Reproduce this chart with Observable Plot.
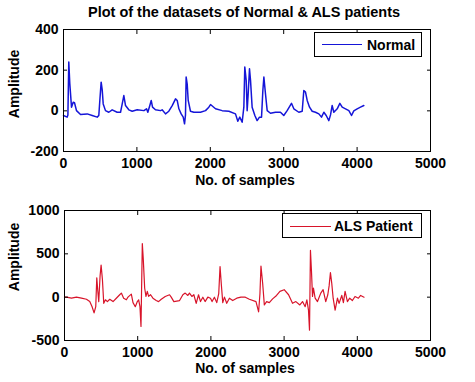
<!DOCTYPE html>
<html>
<head>
<meta charset="utf-8">
<script src="https://cdn.jsdelivr.net/npm/d3@7"></script>
<script src="https://cdn.jsdelivr.net/npm/@observablehq/plot@0.6"></script>
<style>
  html, body { margin: 0; padding: 0; background: #fff; }
  #wrap { position: relative; width: 475px; height: 382px; overflow: hidden; font-family: "Liberation Sans", Arial, sans-serif; font-weight: bold; color: #000; }
  .abs { position: absolute; white-space: nowrap; }
  .t14 { font-size: 14px; line-height: 16px; }
  .rot { transform: translate(-50%, -50%) rotate(-90deg); }
  .box { border: 1px solid #000; background: #fff; box-sizing: border-box; }
</style>
</head>
<body>
<div id="wrap">
  <div class="abs" style="left:0;width:488px;top:4px;text-align:center;font-size:14.5px;line-height:17px;">Plot of the datasets of Normal &amp; ALS patients</div>
  <div id="top" class="abs" style="left:0;top:20px;"></div>
  <div id="bottom" class="abs" style="left:0;top:196px;"></div>
  <div class="abs t14 rot" style="left:13.5px;top:84px;">Amplitude</div>
  <div class="abs t14 rot" style="left:13.5px;top:257px;">Amplitude</div>
  <div class="abs t14" style="left:0;width:490px;top:172.4px;text-align:center;">No. of samples</div>
  <div class="abs t14" style="left:0;width:490px;top:360px;text-align:center;">No. of samples</div>
  <div class="abs box" style="left:314px;top:32px;width:108px;height:25px;"></div>
  <div class="abs" style="left:322px;top:44px;width:40px;height:0;border-top:1px solid #1515d8;"></div>
  <div class="abs t14" style="left:367px;top:37.4px;">Normal</div>
  <div class="abs box" style="left:282px;top:213px;width:140px;height:25px;"></div>
  <div class="abs" style="left:290px;top:226px;width:41px;height:0;border-top:1px solid #d8142a;"></div>
  <div class="abs t14" style="left:334px;top:218.4px;">ALS Patient</div>
</div>
<script>
// ---- data ----
const normalSamples = [0,50,60,72,86,109,132,150,177,232,323,391,459,481,495,513,527,541,572,617,663,731,777,800,822,845,890,936,1004,1095,1131,1149,1176,1195,1213,1253,1322,1344,1390,1435,1481,1503,1526,1549,1572,1603,1631,1649,1662,1671,1685,1699,1730,1776,1866,1935,1980,2003,2071,2162,2253,2343,2375,2402,2434,2457,2470,2489,2502,2516,2534,2548,2570,2607,2638,2670,2698,2716,2730,2752,2775,2820,2888,2956,3001,3047,3106,3138,3206,3252,3274,3297,3320,3352,3388,3433,3479,3515,3547,3579,3615,3638,3660,3683,3729,3765,3797,3842,3888,3924,3955,4001,4046,4092];
const normalAmp = [-23,-31,-20,240,133,18,42,40,1,-18,-15,-23,-31,-23,51,141,105,34,1,-7,5,-7,-7,34,75,26,5,-2,5,1,10,-7,26,51,18,5,1,5,-15,-2,26,42,59,51,10,-15,-31,-64,-20,166,133,51,-2,-7,-7,1,18,31,10,1,-2,-15,-51,-31,-56,18,215,150,1,83,207,150,18,-23,-48,-31,-31,100,166,83,1,-12,-7,-7,-23,1,37,10,-7,-2,100,92,51,18,-2,-7,-15,-31,-7,-23,-48,-20,26,-7,10,37,18,10,1,-23,0,10,18,26];

const alsSamples = [0,27,95,163,232,300,345,377,404,427,441,454,468,486,500,518,536,559,586,618,663,708,754,777,808,845,867,913,936,967,995,1013,1031,1045,1063,1076,1095,1113,1131,1149,1176,1208,1253,1285,1322,1376,1435,1458,1494,1572,1617,1649,1685,1707,1740,1767,1799,1831,1858,1890,1921,1958,1994,2016,2048,2080,2107,2125,2143,2162,2185,2216,2253,2298,2353,2411,2470,2525,2616,2652,2670,2684,2707,2730,2761,2798,2843,2897,2943,3001,3061,3115,3161,3215,3252,3288,3311,3333,3347,3360,3374,3388,3401,3424,3456,3501,3533,3569,3597,3615,3633,3651,3670,3697,3729,3751,3788,3810,3833,3865,3896,3933,3969,4015,4046,4092];
const alsAmp = [0,0,-12,0,-12,-24,-51,-110,-181,-110,224,80,-51,244,370,204,-71,-30,-51,-24,-51,-12,28,47,-12,-30,0,35,-63,-110,-51,-30,-110,-337,618,442,106,8,67,10,28,-12,-39,-51,-24,8,28,0,-51,-39,28,47,20,47,8,28,-71,28,-51,0,-51,0,-12,-51,0,-63,40,354,140,-63,0,-71,-12,-39,-12,0,0,-24,-51,-169,40,358,161,-90,-51,-63,-20,20,67,86,28,-71,-51,-90,-51,-110,-30,-149,-380,539,300,8,106,-12,-51,47,86,-51,28,130,283,160,-12,-149,-12,-71,20,-63,67,-51,-12,-39,8,-12,20,0];

const xTicks = [0, 1000, 2000, 3000, 4000, 5000];
const topYTicks = [-200, 0, 200, 400];
const bottomYTicks = [-500, 0, 500, 1000];

const normalData = normalSamples.map((s, i) => ({s, v: normalAmp[i]}));
const alsData = alsSamples.map((s, i) => ({s, v: alsAmp[i]}));

const fmt = d => String(d);
const none = () => "";
const style = {fontFamily: '"Liberation Sans", Arial, sans-serif', fontSize: "14px", fontWeight: "bold", background: "transparent", color: "black", overflow: "visible"};

function panel({data, color, sw, yDomain, yTicks, height, mt, mb, ml, pad}) {
  return Plot.plot({
    width: 475, height,
    marginLeft: ml, marginRight: 45, marginTop: mt, marginBottom: mb,
    x: {domain: [0, 5000]},
    y: {domain: yDomain},
    style,
    marks: [
      Plot.line(data, {x: "s", y: "v", stroke: color, strokeWidth: sw}),
      Plot.frame({stroke: "black", strokeWidth: 1}),
      Plot.axisX({anchor: "bottom", ticks: xTicks, tickSize: -4, tickPadding: pad, tickFormat: fmt, label: null}),
      Plot.axisX({anchor: "top", ticks: xTicks, tickSize: -4, tickFormat: none, label: null}),
      Plot.axisY({anchor: "left", ticks: yTicks, tickSize: -4, tickPadding: 9, tickFormat: fmt, label: null}),
      Plot.axisY({anchor: "right", ticks: yTicks, tickSize: -4, tickFormat: none, label: null})
    ]
  });
}

document.getElementById("top").append(panel({data: normalData, color: "#1515d8", sw: 1.5, yDomain: [-200, 400], yTicks: topYTicks, height: 150, mt: 9, mb: 19, ml: 63, pad: 10.5}));
document.getElementById("bottom").append(panel({data: alsData, color: "#d8142a", sw: 1.2, yDomain: [-500, 1000], yTicks: bottomYTicks, height: 165, mt: 14, mb: 21, ml: 64, pad: 10.7}));
</script>
</body>
</html>
